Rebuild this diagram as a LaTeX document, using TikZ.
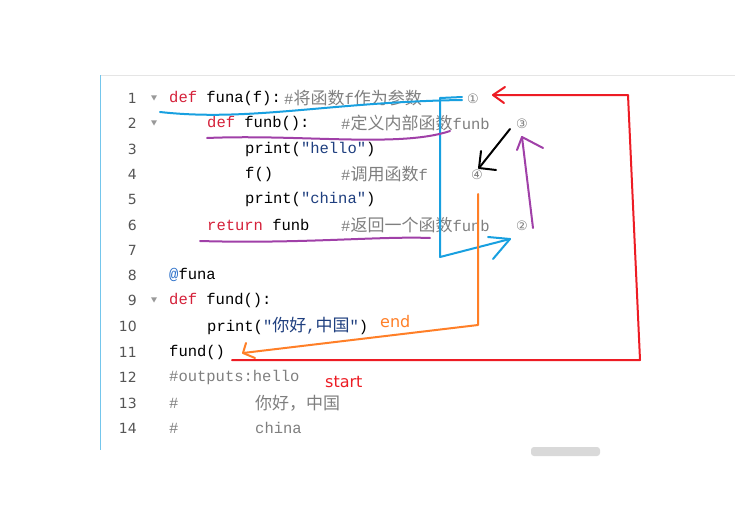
\documentclass[tikz,border=0pt]{standalone}
\usepackage{fontspec}
\usetikzlibrary{shapes.geometric}
\setmonofont{Liberation Mono}
\newfontfamily\cjkf{Noto Sans CJK SC}
\newcommand\cjk{\cjkf\fontsize{17}{17}\selectfont}
\newfontfamily\djfont{DejaVu Sans}
\begin{document}
\begin{tikzpicture}[x=1pt,y=-1pt,
  code/.style={anchor=west,inner sep=0pt,font=\ttfamily\fontsize{15.5}{15.5}\selectfont},
  cmt/.style={code,text=cgray},
  num/.style={anchor=east,inner sep=0pt,text=numgray,font=\djfont\fontsize{14}{14}\selectfont},
  circ/.style={inner sep=0pt,text=cgray,font=\djfont\fontsize{13}{13}\selectfont},
  pen/.style={line width=2pt,line cap=round,line join=round},
  lbl/.style={inner sep=0pt,font=\djfont\fontsize{16}{16}\selectfont}]
\definecolor{kw}{HTML}{D5213A}
\definecolor{cgray}{HTML}{7F7F7F}
\definecolor{numgray}{HTML}{555555}
\definecolor{str}{HTML}{1F3F7F}
\definecolor{at}{HTML}{2A6FC9}
\definecolor{pblue}{HTML}{18A0E0}
\definecolor{ppurple}{HTML}{A040A8}
\definecolor{porange}{HTML}{FF7F27}
\definecolor{pred}{HTML}{ED1C24}
\useasboundingbox (0,0) rectangle (735,511);
\fill[white] (0,0) rectangle (735,511);
\draw[gray!20] (100,75) -- (735,75);
\draw[pblue!60,line width=0.8pt] (100,75) -- (100,450);
\fill[gray!30,rounded corners=3pt] (531,447) rectangle (600,456);
% line numbers
\foreach \n/\y in {1/98,2/123,3/149,4/174,5/199,6/225,7/250,8/275,9/300,10/326,11/352,12/377,13/403,14/428}
  \node[num] (n\n) at (137,\y) {\n};
\foreach \y/\k in {98/a,123/b,300/c}
  \node[fill=gray!80,inner sep=0pt,regular polygon,regular polygon sides=3,shape border rotate=180,minimum size=7pt] (t\k) at (154,\y-1) {};
% code
\node[code] (l1) at (169,98) {\textcolor{kw}{def} funa(f):};
\node[cmt] (c1) at (284,98) {\#{\cjk 将函数}f{\cjk 作为参数}};
\node[code] (l2) at (207,123) {\textcolor{kw}{def} funb():};
\node[cmt] (c2) at (341,123) {\#{\cjk 定义内部函数}funb};
\node[code] (l3) at (245,149) {print(\textcolor{str}{"hello"})};
\node[code] (l4) at (245,174) {f()};
\node[cmt] (c4) at (341,174) {\#{\cjk 调用函数}f};
\node[code] (l5) at (245,199) {print(\textcolor{str}{"china"})};
\node[code] (l6) at (207,225) {\textcolor{kw}{return} funb};
\node[cmt] (c6) at (341,225) {\#{\cjk 返回一个函数}funb};
\node[code] (l8) at (169,275) {\textcolor{at}{@}funa};
\node[code] (l9) at (169,300) {\textcolor{kw}{def} fund():};
\node[code] (l10) at (207,326) {print(\textcolor{str}{"{\cjk 你好},{\cjk 中国}"})};
\node[code] (l11) at (169,352) {fund()};
\node[cmt] (l12) at (169,377) {\#outputs:hello};
\node[cmt] (l13) at (169,403) {\#};
\node[cmt] (l13b) at (255,403) {{\cjk 你好，中国}};
\node[cmt] (l14) at (169,428) {\#};
\node[cmt] (l14b) at (255,428) {china};
% circled numbers
\node[circ] (k1) at (473,99) {①};
\node[circ] (k3) at (522,124) {③};
\node[circ] (k4) at (477,175) {④};
\node[circ] (k2) at (522,226) {②};
% blue
\draw[pen,pblue] (160,112) .. controls (250,122) and (330,102) .. (462,100);
\draw[pen,pblue] (462,97) -- (440,98) -- (440,257) -- (510,239);
\draw[pen,pblue] (488,237) -- (510,239) -- (493,259);
% purple
\draw[pen,ppurple] (207,138) .. controls (300,134) and (400,148) .. (450,131);
\draw[pen,ppurple] (200,241) .. controls (300,244) and (380,236) .. (430,238);
\draw[pen,ppurple] (533,228) -- (522,137);
\draw[pen,ppurple] (517,150) -- (522,137) -- (543,148);
% black
\draw[pen,black] (510,129) -- (479,168);
\draw[pen,black] (481,151) -- (479,168) -- (496,170);
% orange
\draw[pen,porange] (478,194) -- (478,325) -- (243,353);
\draw[pen,porange] (246,343) -- (243,353) -- (255,358);
\node[lbl,text=porange,anchor=west] (end) at (380,322) {end};
% red
\draw[pen,pred] (232,360) -- (640,360) -- (628,95) -- (493,95);
\draw[pen,pred] (505,87) -- (493,95) -- (504,103);
\node[lbl,text=pred,anchor=west] (start) at (325,382) {start};
\end{tikzpicture}
\end{document}
